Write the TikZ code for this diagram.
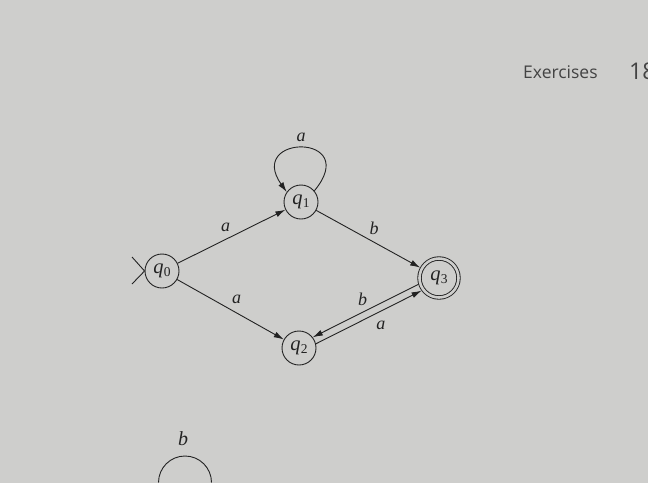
\documentclass[tikz,border=0pt]{standalone}
\usepackage{fontspec}
\setmainfont{Liberation Serif}
\newfontfamily\headfont{Open Sans}
\usetikzlibrary{arrows.meta}
\definecolor{paper}{RGB}{206,206,204}
\definecolor{ink}{RGB}{34,34,34}
\newcommand\qsub[1]{\textit{q}\kern0.3pt\raisebox{-0.32ex}{\fontsize{13.5}{13.5}\selectfont #1}}
\newcommand\lbl[1]{\textit{#1}}
\tikzset{
  state/.style={circle, draw=ink, line width=0.9pt, minimum size=34pt, inner sep=0pt, text=ink, font=\fontsize{20.5}{20.5}\selectfont},
  accept/.style={state, double=paper, double distance=2.6pt, minimum size=39pt, outer sep=2pt},
  edge/.style={draw=ink, line width=0.9pt, -{Latex[length=10pt,width=6pt]}},
  lab/.style={text=ink, font=\fontsize{18}{18}\selectfont, inner sep=0pt},
  plain/.style={draw=ink, line width=0.9pt}
}
\begin{document}
\begin{tikzpicture}[x=1pt,y=-1pt]
\fill[paper] (0,0) rectangle (648,483);
\useasboundingbox (0,0) rectangle (648,483);
\begin{scope}
\clip (0,0) rectangle (648,483);
% header
\node[anchor=base west, inner sep=0pt, text=ink!85, font=\headfont\fontsize{17.5}{17.5}\selectfont] (hdr) at (523,78) {Exercises};
\node[anchor=base west, inner sep=0pt, text=ink!85, font=\headfont\fontsize{23}{23}\selectfont] (pg) at (629,79) {18};
% states
\node[state] (q0) at (162,271) {\qsub{0}};
\node[state] (q1) at (301,202) {\qsub{1}};
\node[state] (q2) at (299,348) {\qsub{2}};
\node[accept] (q3) at (439,278) {\qsub{3}};
% initial marker
\coordinate (i1) at (132,257);
\coordinate (i2) at (132,284);
\draw[plain] (i1) -- (q0.west) -- (i2);
% edges
\draw[edge] (q0) -- node[lab, above, yshift=4pt, xshift=-6pt] (la1) {\lbl{a}} (q1);
\draw[edge] (q0) -- node[lab, above, yshift=5pt, xshift=6pt] (la2) {\lbl{a}} (q2);
\draw[edge] (q1) -- node[lab, above, yshift=4pt, xshift=6pt] (lb1) {\lbl{b}} (q3);
\draw[edge] (q3.197) -- node[lab, above, yshift=5pt, xshift=-3pt] (lb2) {\lbl{b}} (q2.38.5);
\draw[edge] (q2.14.7) -- node[lab, below, yshift=-3pt, xshift=12pt] (la3) {\lbl{a}} (q3.216.2);
\draw[edge] (q1.40) .. controls +(48,-58) and +(-41,-58) .. (q1.145);
\node[lab] (la0) at (301,137) {\lbl{a}};
% bottom partial loop
\node[lab, font=\fontsize{20}{20}\selectfont] (lbb) at (183,439) {\lbl{b}};
\coordinate (bc) at (185,482.5);
\draw[plain] (bc) ++(26.5,0) arc[start angle=0, end angle=-180, radius=26.5];
\end{scope}
\end{tikzpicture}
\end{document}
